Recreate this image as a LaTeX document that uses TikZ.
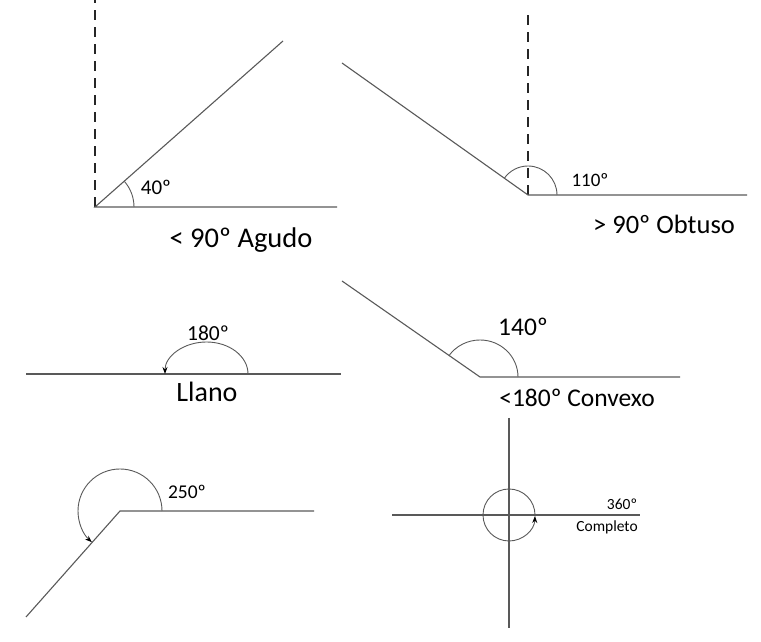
\documentclass[tikz,border=0pt]{standalone}
\usepackage{fontspec}
\setmainfont{Carlito}
\usetikzlibrary{positioning}
\usetikzlibrary{calc}
\usetikzlibrary{arrows.meta}

\begin{document}
\begin{tikzpicture}[x=1pt,y=1pt,
  ray/.style={draw=black!65,line width=1.1pt},
  guide/.style={draw=black!85,line width=1.3pt,dash pattern=on 10pt off 7pt},
  anglearc/.style={draw=black!65,line width=0.9pt},
  tip/.style={-{Stealth[length=7pt,width=5pt,black]}},
  small/.style={font=\fontsize{#1}{22}\selectfont},
  small/.default=19,
  tiny/.style={font=\fontsize{15.5}{18}\selectfont},
  big/.style={font=\fontsize{#1}{30}\selectfont},
  big/.default=26]
\useasboundingbox (0,0) rectangle (761,642);

% agudo
\coordinate (a) at (95,435);
\coordinate (a-up) at (95,642);
\coordinate (a-r) at (337,435);
\coordinate (a-s) at (283,601);
\draw[guide] (a) -- (a-up);
\draw[ray] (a-s) -- (a) -- (a-r);
\draw[anglearc] ($(a)+(39,0)$) arc[start angle=0,end angle=41,radius=39];
\node[small=21] (a-deg) at (156,455) {40º};
\node[big=28.5] (a-name) at (241,402) {< 90º Agudo};

% obtuso
\coordinate (b) at (528,447);
\coordinate (b-up) at (528,632);
\coordinate (b-r) at (747,447);
\coordinate (b-s) at (342,579);
\draw[guide] (b) -- (b-up);
\draw[ray] (b-s) -- (b) -- (b-r);
\draw[anglearc] ($(b)+(29,0)$) arc[start angle=0,end angle=145,radius=29];
\node[small] (b-deg) at (590,462) {110º};
\node[big=26.5] (b-name) at (664,418) {> 90º Obtuso};

% llano
\coordinate (c) at (206.5,268);
\coordinate (c-l) at (26,268);
\coordinate (c-r) at (341,268);
\draw[ray] (c-l) -- (c-r);
\draw[anglearc,tip] ($(c)+(41.5,0)$) arc[start angle=0,end angle=180,x radius=41.5,y radius=32];
\node[small=21.5] (c-deg) at (208,309) {180º};
\node[big=28] (c-name) at (207,250) {Llano};

% convexo
\coordinate (d) at (480,265);
\coordinate (d-r) at (680,265);
\coordinate (d-s) at (342,361);
\draw[ray] (d-s) -- (d) -- (d-r);
\draw[anglearc] ($(d)+(38,0)$) arc[start angle=0,end angle=145,x radius=38,y radius=37];
\node[big=25.5] (d-deg) at (523,315) {140º};
\node[big=25.5] (d-name) at (577,244) {<180º Convexo};

% 250
\coordinate (e) at (120,131);
\coordinate (e-r) at (314,131);
\coordinate (e-s) at (26,25);
\draw[ray] (e-s) -- (e) -- (e-r);
\draw[anglearc,tip] ($(e)+(42,0)$) arc[start angle=0,end angle=228,radius=42];
\node[small=19.5] (e-deg) at (187,150) {250º};

% completo
\coordinate (f) at (509,127);
\coordinate (f-l) at (392,127);
\coordinate (f-r) at (640,127);
\coordinate (f-up) at (509,224);
\coordinate (f-dn) at (509,14);
\draw[ray] (f-l) -- (f-r);
\draw[ray] (f-up) -- (f-dn);
\draw[anglearc,tip] ($(f)+(26,0)$) arc[start angle=0,end angle=358,radius=26];
\node[tiny] (f-deg) at (622,138) {360º};
\node[tiny] (f-name) at (607,115) {Completo};
\end{tikzpicture}
\end{document}
